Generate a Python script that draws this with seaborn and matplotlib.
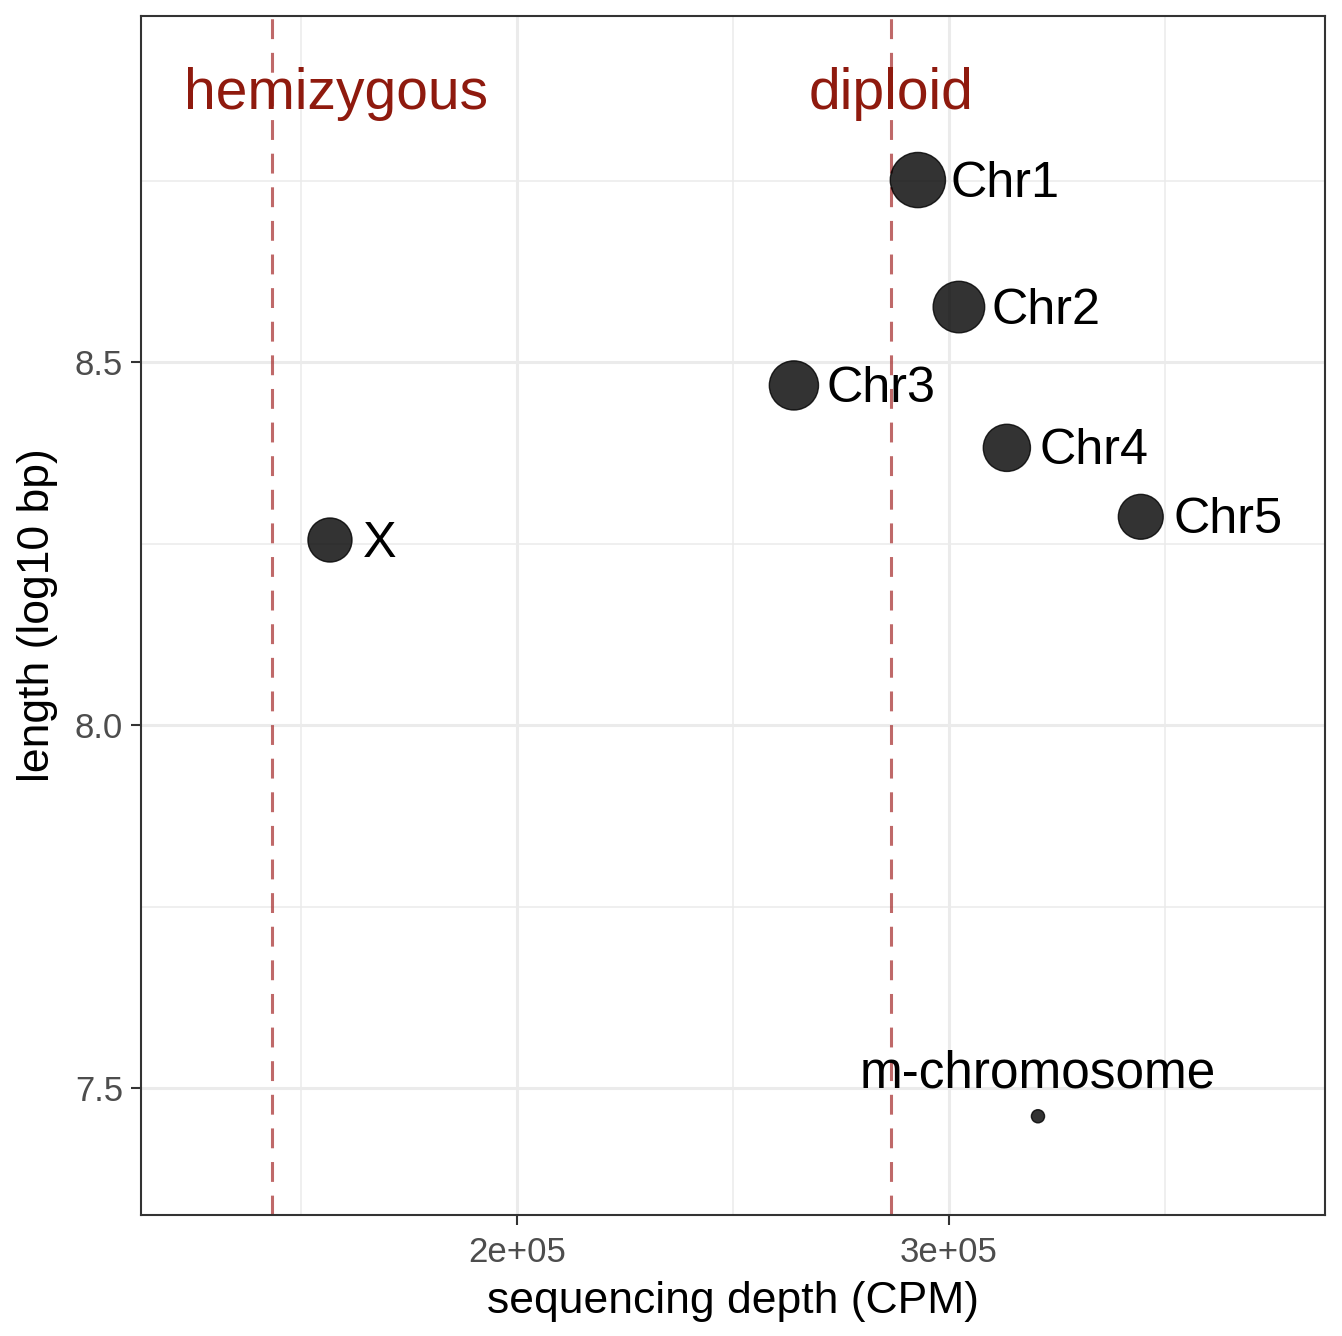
import pandas as pd
import numpy as np
import matplotlib.pyplot as plt
import seaborn as sns
from matplotlib.ticker import MultipleLocator

# chromosome depth vs length
chrom = ['Chr1', 'Chr2', 'Chr3', 'Chr4', 'Chr5', 'X', 'm-chromosome']
depth = [292800, 302300, 264100, 313400, 344400, 156700, 320600]
log_len = [8.751, 8.576, 8.468, 8.382, 8.287, 8.255, 7.461]

hemizygous = 143250
diploid = 2 * hemizygous

df = pd.DataFrame({'chrom': chrom, 'depth': depth, 'log_len': log_len})

sns.set_theme(style='white')
plt.rcParams['font.family'] = ['Liberation Sans', 'DejaVu Sans']

fig = plt.figure(figsize=(13.42, 13.36), dpi=100)
ax = fig.add_axes([0.1051, 0.0906, 0.8822, 0.8974])

# grid like theme_bw
ax.set_xlim(112963, 387037)
ax.set_ylim(7.325, 8.977)
ax.xaxis.set_major_locator(MultipleLocator(100000))
ax.xaxis.set_minor_locator(MultipleLocator(50000))
ax.yaxis.set_major_locator(MultipleLocator(0.5))
ax.yaxis.set_minor_locator(MultipleLocator(0.25))
ax.grid(which='major', color='#ebebeb', linewidth=2.2)
ax.grid(which='minor', color='#ebebeb', linewidth=1.1)
ax.set_axisbelow(True)

for v in [hemizygous, diploid]:
    ax.axvline(v, color='#a52a2a', alpha=0.7, linewidth=2.2, linestyle=(0, (6.5, 4.5)), zorder=2)

sns.scatterplot(data=df, x='depth', y='log_len', size='log_len', sizes=(90, 1580),
                color='black', alpha=0.8, edgecolor='black', linewidth=1.0,
                legend=False, ax=ax, zorder=3)

dx = 7600
for c, x, y in zip(chrom, depth, log_len):
    if c == 'm-chromosome':
        ax.text(x, y + 0.058, c, ha='center', va='center', fontsize=37, color='black', zorder=4)
    else:
        ax.text(x + dx, y - 0.005, c, ha='left', va='center', fontsize=36.3, color='black', zorder=4)

ax.text(158000, 8.870, 'hemizygous', ha='center', va='center', fontsize=41, color='#8f1a0e')
ax.text(diploid, 8.870, 'diploid', ha='center', va='center', fontsize=41, color='#8f1a0e')

ax.set_xticks([200000, 300000])
ax.set_xticklabels(['2e+05', '3e+05'])
ax.set_yticks([7.5, 8.0, 8.5])
ax.set_yticklabels(['7.5', '8.0', '8.5'])
ax.tick_params(axis='both', which='major', length=7, width=1.5, color='#333333',
               labelsize=25, labelcolor='#4d4d4d', pad=6, bottom=True, left=True)
ax.tick_params(axis='x', which='major', pad=8)
ax.tick_params(which='minor', length=0)

ax.set_xlabel('sequencing depth (CPM)', fontsize=32, color='black', labelpad=9)
ax.set_ylabel('length (log10 bp)', fontsize=32, color='black', labelpad=12)

for s in ax.spines.values():
    s.set_color('#333333')
    s.set_linewidth(1.5)

fig.savefig('out.png', dpi=100)
